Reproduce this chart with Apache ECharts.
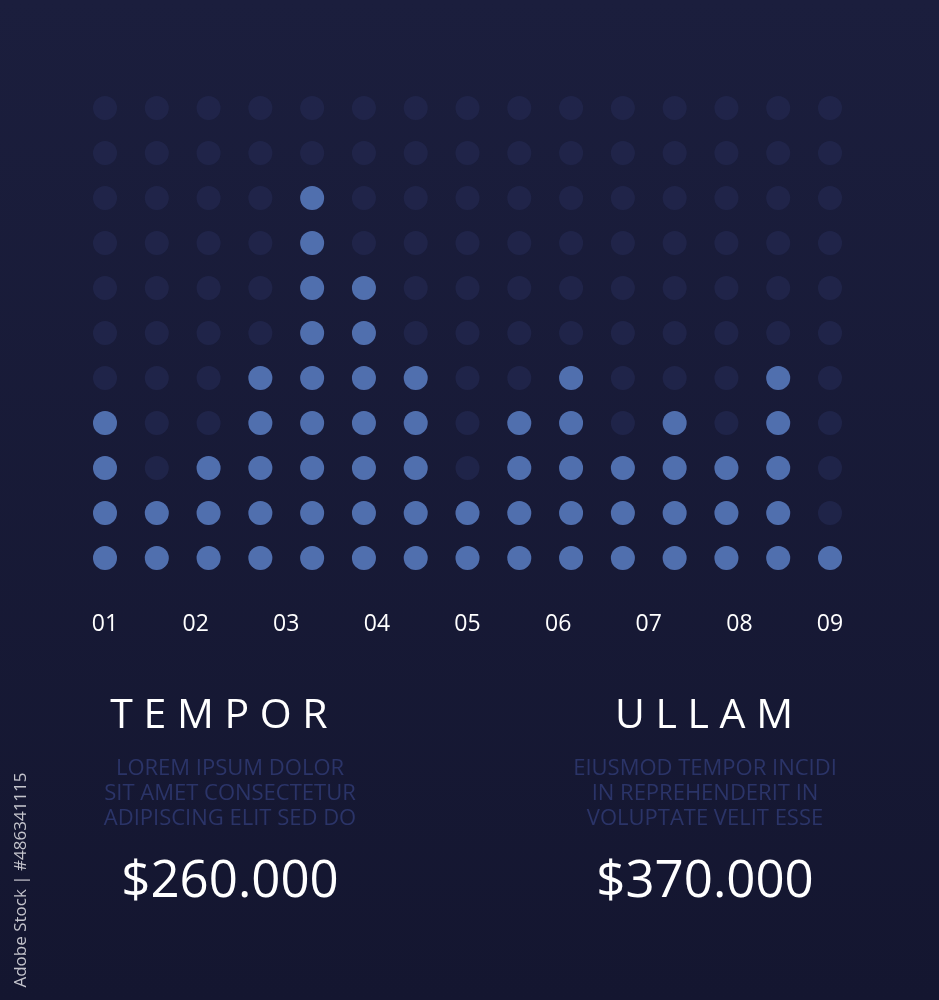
<!DOCTYPE html>
<html>
<head>
<meta charset="utf-8">
<script src="https://cdn.jsdelivr.net/npm/echarts@6.0.0/dist/echarts.min.js"></script>
<style>
html,body{margin:0;padding:0;background:#181a36;}
#chart{width:939px;height:1000px;}
</style>
</head>
<body>
<div id="chart"></div>
<script>
// ---- data ----
const dotColumns = ['c01','c02','c03','c04','c05','c06','c07','c08','c09','c10','c11','c12','c13','c14','c15'];
const columnHeights = [4, 2, 3, 5, 9, 7, 5, 2, 4, 5, 3, 4, 3, 5, 1];
const rowLevels = [0,1,2,3,4,5,6,7,8,9,10];
const tickLabels = ['01','02','03','04','05','06','07','08','09'];
const leftTitle = 'TEMPOR';
const rightTitle = 'ULLAM';
const leftLines = ['LOREM IPSUM DOLOR', 'SIT AMET CONSECTETUR', 'ADIPISCING ELIT SED DO'];
const rightLines = ['EIUSMOD TEMPOR INCIDI', 'IN REPREHENDERIT IN', 'VOLUPTATE VELIT ESSE'];
const leftValue = '$260.000';
const rightValue = '$370.000';

// ---- build series data ----
const bgDots = [];
const litDots = [];
dotColumns.forEach((c, i) => {
  rowLevels.forEach(r => {
    bgDots.push([c, r]);
    if (r < columnHeights[i]) litDots.push([c, r]);
  });
});

const spaced = s => s.split('').join(' ');
const FONT = '"Open Sans", "Noto Sans", sans-serif';

function textBlock(cx, titleX, title, lines, value) {
  const els = [];
  els.push({type:'text', x:titleX, y:716, style:{text:spaced(title), fill:'#ffffff', font:'400 41px ' + FONT, textAlign:'center', textVerticalAlign:'middle'}});
  lines.forEach((l, k) => {
    els.push({type:'text', x:cx, y:769 + k*25, style:{text:l, fill:'#2b3468', font:'400 22px ' + FONT, textAlign:'center', textVerticalAlign:'middle'}});
  });
  els.push({type:'text', x:cx, y:882, style:{text:value, fill:'#ffffff', font:'400 51px ' + FONT, textAlign:'center', textVerticalAlign:'middle'}});
  return els;
}

const chart = echarts.init(document.getElementById('chart'), null, {renderer:'canvas'});
chart.setOption({
  backgroundColor: {
    type:'linear', x:0, y:0, x2:0, y2:1,
    colorStops:[{offset:0, color:'#1b1e3d'}, {offset:1, color:'#141630'}]
  },
  animation:false,
  grid:{left:105, right:109, top:108, bottom:442},
  xAxis:[
    {type:'category', data:dotColumns, boundaryGap:false, show:false},
    {type:'category', data:tickLabels, boundaryGap:false, position:'bottom',
     axisLine:{show:false}, axisTick:{show:false}, splitLine:{show:false},
     axisLabel:{color:'#ffffff', fontSize:23, fontFamily:FONT, margin:55, interval:0}}
  ],
  yAxis:{type:'value', min:0, max:10, show:false},
  series:[
    {type:'scatter', xAxisIndex:0, data:bgDots, symbolSize:24, itemStyle:{color:'#22274d'}, silent:true},
    {type:'scatter', xAxisIndex:0, data:litDots, symbolSize:24, itemStyle:{color:'#5d82c8'}, silent:true}
  ],
  graphic:[
    ...textBlock(230, 219, leftTitle, leftLines, leftValue),
    ...textBlock(705, 704, rightTitle, rightLines, rightValue),
    {type:'text', x:21, y:880, rotation:Math.PI/2,
     style:{text:'Adobe Stock | #486341115', fill:'#c4c4cc', font:'400 17px ' + FONT, textAlign:'center', textVerticalAlign:'middle'}}
  ]
});
</script>
</body>
</html>
